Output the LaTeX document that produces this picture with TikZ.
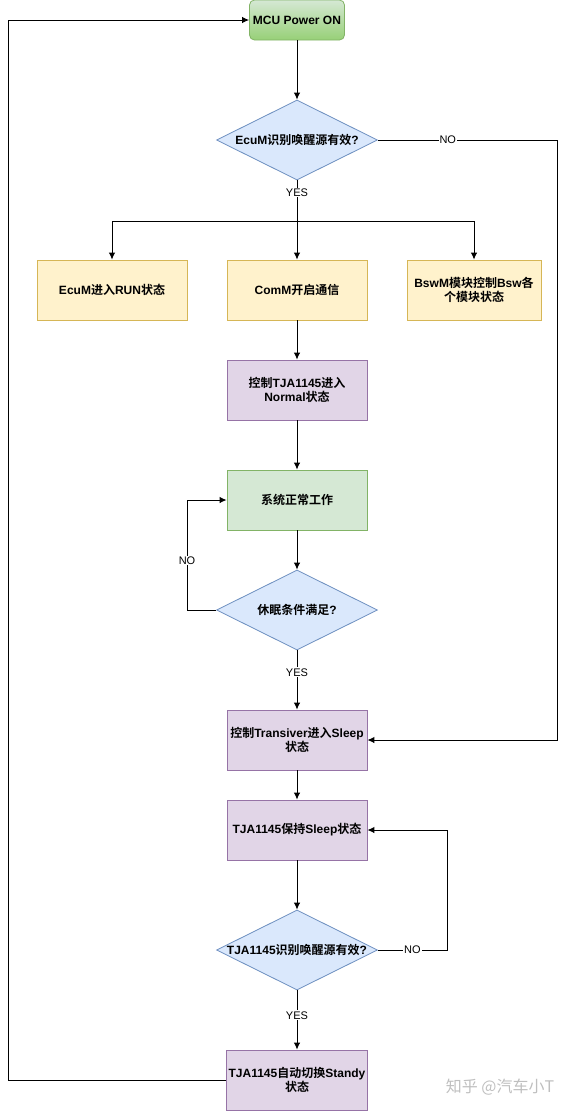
\documentclass[tikz,border=0pt]{standalone}
\usepackage{fontspec}
\setmainfont{Liberation Sans}
\newfontfamily\cjk{Noto Sans CJK SC}[BoldFont={Noto Sans CJK SC Bold}]
\usetikzlibrary{shapes.geometric, arrows.meta}
\newcommand{\zh}[1]{{\cjk #1}}
\definecolor{grnfill}{HTML}{D5E8D4}
\definecolor{grndark}{HTML}{97D077}
\definecolor{grnline}{HTML}{82B366}
\definecolor{yelfill}{HTML}{FFF2CC}
\definecolor{yelline}{HTML}{D6B656}
\definecolor{purfill}{HTML}{E1D5E7}
\definecolor{purline}{HTML}{9673A6}
\definecolor{blufill}{HTML}{DAE8FC}
\definecolor{bluline}{HTML}{6C8EBF}
\begin{document}
\begin{tikzpicture}[x=1pt, y=-1pt, line width=1pt, >={Latex[length=7pt,width=6.5pt]},
  font=\bfseries\fontsize{12}{14}\selectfont,
  box/.style={draw, line width=0.8pt, minimum width=140pt, minimum height=60pt, align=center, inner sep=2pt},
  yelbox/.style={box, fill=yelfill, draw=yelline},
  purbox/.style={box, fill=purfill, draw=purline},
  grnbox/.style={box, fill=grnfill, draw=grnline},
  dia/.style={diamond, draw=bluline, line width=0.8pt, fill=blufill, minimum width=161pt, minimum height=80pt, inner sep=0pt},
  lbl/.style={fill=white, inner sep=1pt, font=\fontsize{11}{13}\selectfont}]
\useasboundingbox (0,0) rectangle (567,1112);
\node[draw=grnline, line width=0.8pt, top color=grnfill, bottom color=grndark, rounded corners=5pt,
  minimum width=95pt, minimum height=40pt] (start) at (297,20) {MCU Power ON};
\node[dia, label=center:{EcuM\zh{识别唤醒源有效}?}] (d1) at (297,140) {};
\node[yelbox, minimum width=150pt] (ecum) at (112,290) {EcuM\zh{进入}RUN\zh{状态}};
\node[yelbox] (comm) at (297,290) {ComM\zh{开启通信}};
\node[yelbox, minimum width=134pt] (bswm) at (474,290) {BswM\zh{模块控制}Bsw\zh{各}\\\zh{个模块状态}};
\node[purbox] (normal) at (297,390) {\zh{控制}TJA1145\zh{进入}\\Normal\zh{状态}};
\node[grnbox] (work) at (297,500) {\zh{系统正常工作}};
\node[dia, label=center:{\zh{休眠条件满足}?}] (d2) at (297,610) {};
\node[purbox] (trans) at (297,740) {\zh{控制}Transiver\zh{进入}Sleep\\\zh{状态}};
\node[purbox] (sleep) at (297,830) {TJA1145\zh{保持}Sleep\zh{状态}};
\node[dia, label=center:{TJA1145\zh{识别唤醒源有效}?}] (d3) at (297,950) {};
\node[purbox] (standy) at (297,1080) {TJA1145\zh{自动切换}Standy\\\zh{状态}};
\node[text=black!25, font=\cjk\fontsize{16}{18}\selectfont] (mark) at (500,1087) {知乎 @汽车小T};
\coordinate (split) at (297,221);
\coordinate (rgt) at (557,740);
\coordinate (lft) at (187,500);
\coordinate (lp) at (447,830);
\coordinate (back) at (8,20);
\draw[->] (start) -- (d1);
\draw (d1) -- node[lbl, pos=0.3]{YES} (split);
\draw[->] (split) -| (ecum);
\draw[->] (split) -- (comm);
\draw[->] (split) -| (bswm);
\draw[->] (d1.east) -- node[lbl, pos=0.39]{NO} (d1.east -| rgt) -- (rgt) -- (trans.east);
\draw[->] (comm) -- (normal);
\draw[->] (normal) -- (work);
\draw[->] (work) -- (d2);
\draw[->] (d2.west) -- (d2.west -| lft) -- node[lbl, pos=0.45]{NO} (lft) -- (work.west);
\draw[->] (d2) -- node[lbl, pos=0.37]{YES} (trans);
\draw[->] (trans) -- (sleep);
\draw[->] (sleep) -- (d3);
\draw[->] (d3.east) -- node[lbl]{NO} (d3.east -| lp) -- (lp) -- (sleep.east);
\draw[->] (d3) -- node[lbl, pos=0.42]{YES} (standy);
\draw[->] (standy.west) -- (standy.west -| back) |- (start.west);
\end{tikzpicture}
\end{document}
